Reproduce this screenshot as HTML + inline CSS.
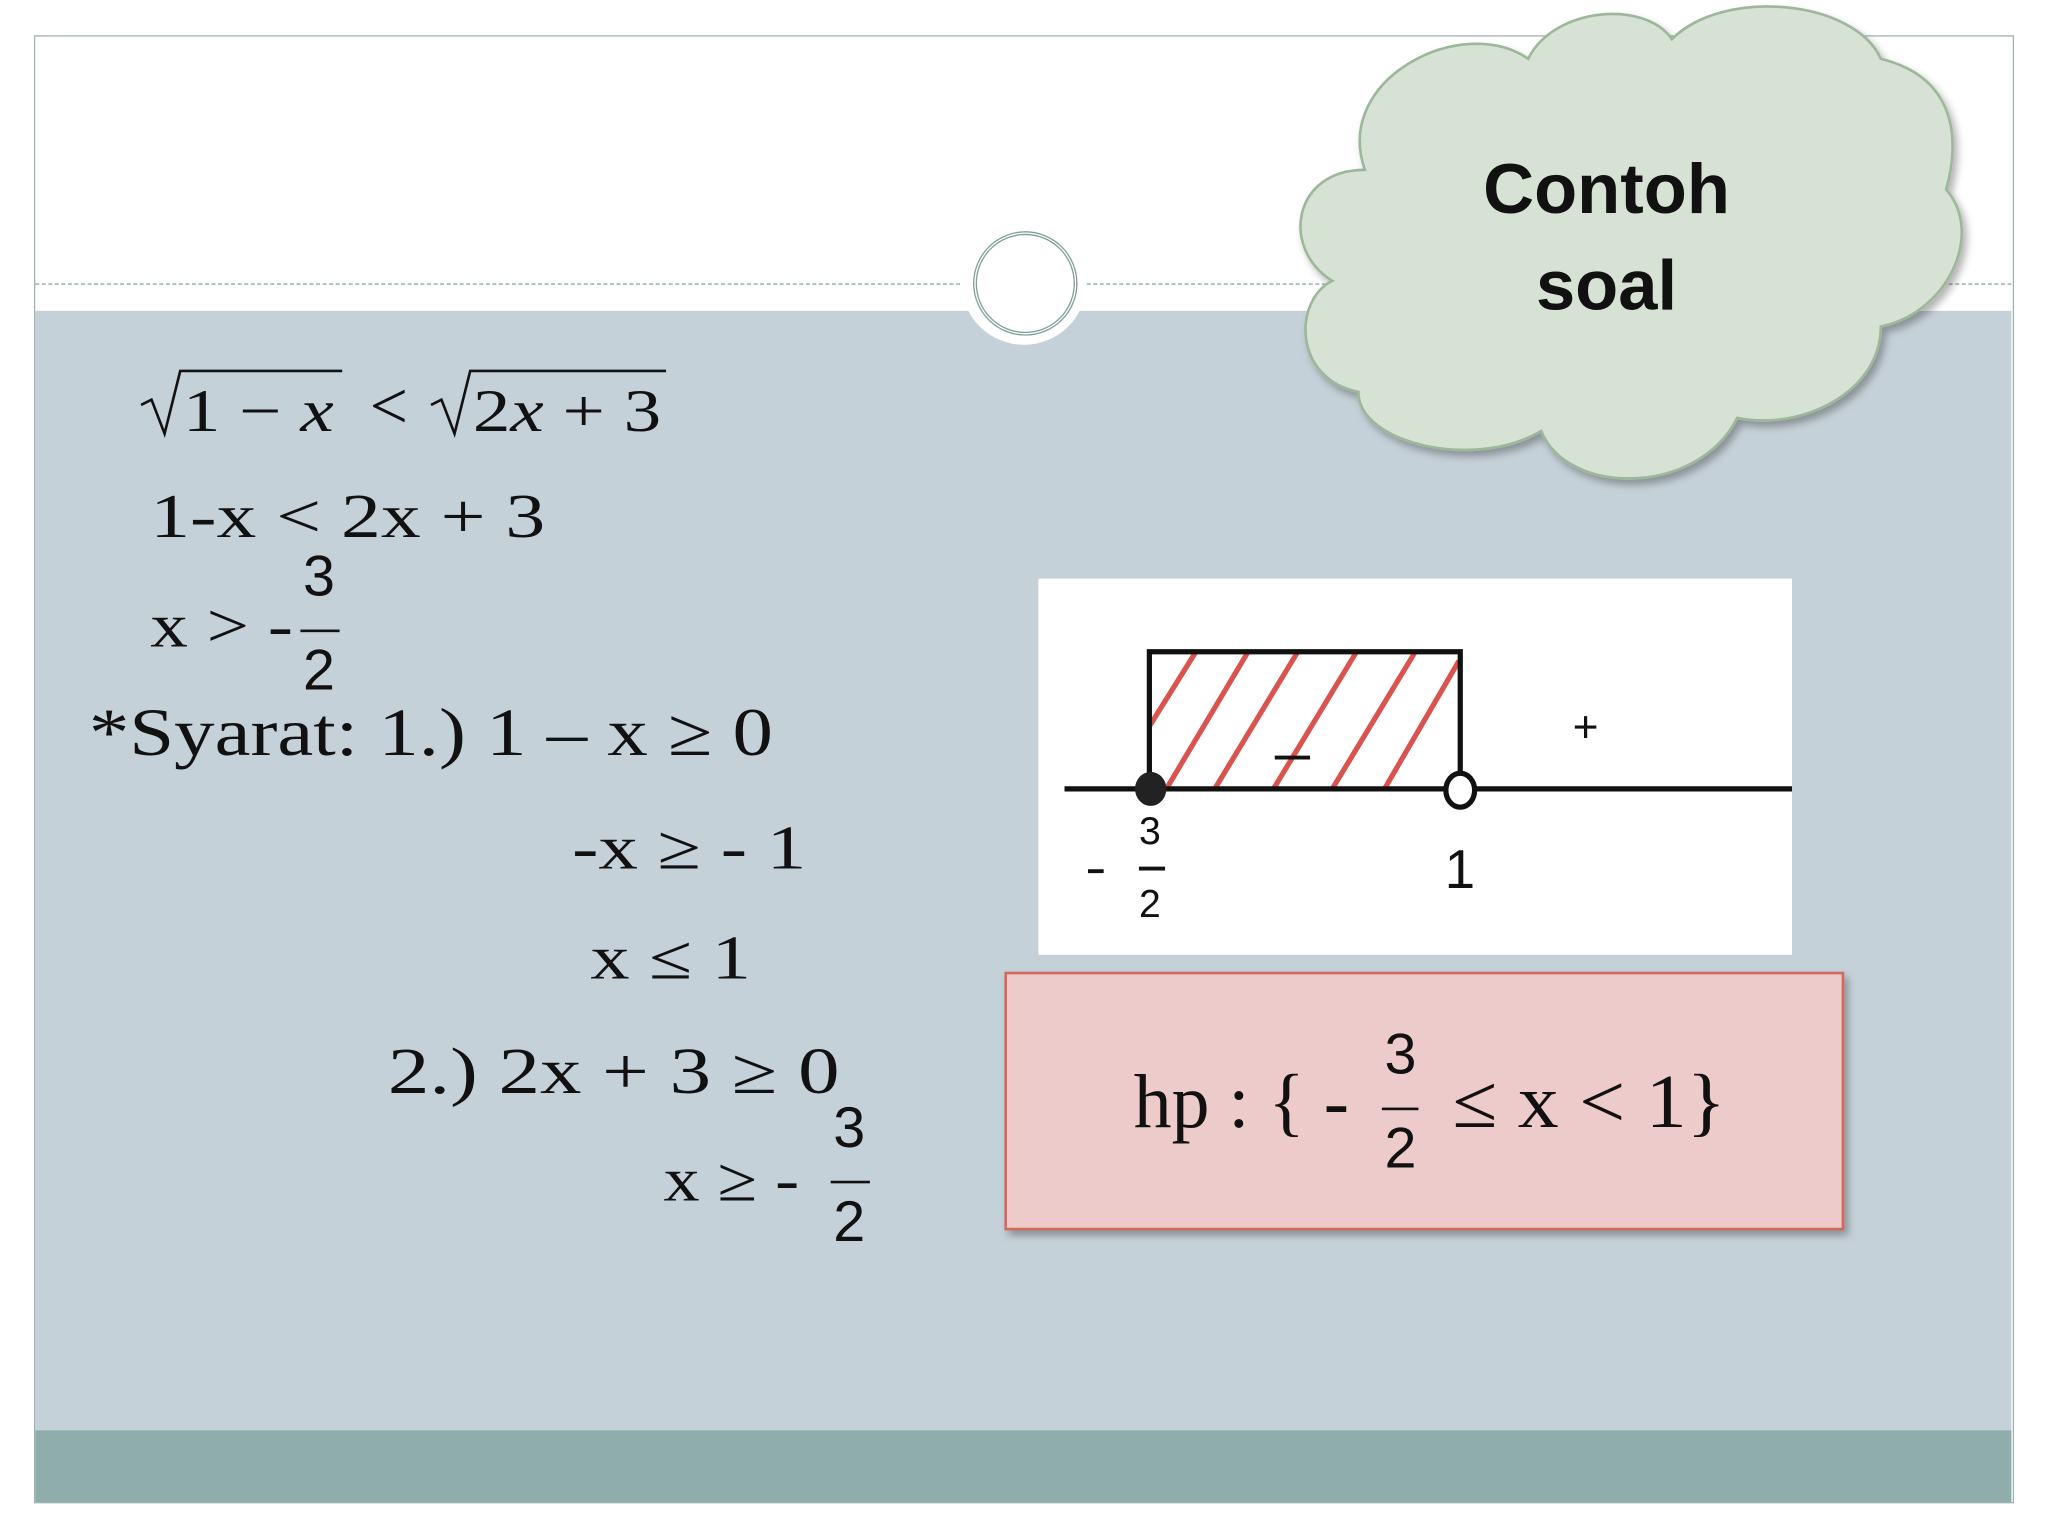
<!DOCTYPE html>
<html><head><meta charset="utf-8"><style>
html,body{margin:0;padding:0;width:2048px;height:1536px;overflow:hidden;background:#fff}
#s{position:absolute;left:0;top:0;width:1568px;height:1176px;transform:scale(1.306122);transform-origin:0 0}
.t{position:absolute;font-family:"Liberation Serif",serif;color:#111;white-space:nowrap;line-height:1;transform-origin:0 0}
</style></head><body><div id="s">
<div style="position:absolute;left:26px;top:27px;width:1514px;height:1122px;border:1px solid #9fb3ae;background:#fff"></div>
<div style="position:absolute;left:27px;top:238px;width:1513px;height:857px;background:#c5d1d8"></div>
<div style="position:absolute;left:27px;top:1095px;width:1513px;height:55px;background:#8fadab"></div>
<div style="position:absolute;left:27px;top:217px;width:1513px;border-top:1px dashed #8fa9a6"></div>
<div style="position:absolute;left:736px;top:168px;width:96px;height:96px;border-radius:50%;background:#fff"></div>
<div style="position:absolute;left:745px;top:177px;width:74px;height:74px;border-radius:50%;border:3px double #7f9f9a;background:#fff"></div>
<svg style="position:absolute;left:0;top:0" width="1568" height="1176">
<defs><filter id="sh"><feDropShadow dx="3" dy="4" stdDeviation="3" flood-opacity="0.3"/></filter></defs>
<g filter="url(#sh)" fill="#d6e2d3" stroke="#9db79a" stroke-width="2">
<path d="M1045,130 C1020,60 1120,10 1170,45 C1190,5 1260,0 1280,30 C1320,-10 1420,0 1440,45 C1500,60 1500,110 1490,145 C1520,180 1490,240 1440,250 C1440,300 1380,330 1330,320 C1300,380 1200,380 1180,330 C1130,360 1040,340 1040,300 C990,290 990,230 1020,215 C980,190 990,130 1045,130 Z"/>
</g>
<rect x="795" y="443" width="577" height="288" fill="#fff"/>
<g stroke="#d9534f" stroke-width="4">
<line x1="880" y1="556" x2="915" y2="500"/><line x1="893" y1="604" x2="955" y2="500"/><line x1="930" y1="604" x2="993" y2="500"/><line x1="975" y1="604" x2="1038" y2="500"/><line x1="1020" y1="604" x2="1083" y2="500"/><line x1="1060" y1="604" x2="1117" y2="506"/>
</g>
<path d="M880,604 V499 H1118 V604" fill="none" stroke="#111" stroke-width="4"/>
<line x1="815" y1="604" x2="1372" y2="604" stroke="#111" stroke-width="4"/>
<ellipse cx="881" cy="604" rx="12" ry="13" fill="#222"/>
<ellipse cx="1118" cy="605" rx="11" ry="13" fill="#fff" stroke="#111" stroke-width="4"/>
<line x1="976" y1="580" x2="1003" y2="580" stroke="#111" stroke-width="3"/>
<line x1="833" y1="667" x2="845" y2="667" stroke="#111" stroke-width="3"/>
<line x1="872" y1="665" x2="892" y2="665" stroke="#111" stroke-width="3"/>
<rect x="770" y="745" width="641" height="196" fill="#eecbcb" stroke="#d06a5e" stroke-width="2" filter="url(#sh)"/>
<path d="M108,310 l8,-4 l10,26 l12,-48 h124" fill="none" stroke="#111" stroke-width="2"/>
<path d="M330,310 l8,-4 l10,26 l12,-48 h150" fill="none" stroke="#111" stroke-width="2"/>
</svg>
<div class="t" style="left:1130px;top:108px;font-family:'Liberation Sans',sans-serif;font-weight:bold;font-size:54px;width:200px;text-align:center;line-height:74px">Contoh<br>soal</div>
<div class="t" style="left:140px;top:292px;font-size:46px;transform:scaleX(1.25)">1 − <i>x</i></div>
<div class="t" style="left:283px;top:286px;font-size:52px">&lt;</div>
<div class="t" style="left:362px;top:292px;font-size:46px;transform:scaleX(1.25)">2<i>x</i> + 3</div>
<div class="t" style="left:115px;top:372px;font-size:48px;transform:scaleX(1.27)">1-x &lt; 2x + 3</div>
<div class="t" style="left:115px;top:456px;font-size:48px;transform:scaleX(1.2)">x &gt; -</div>
<div class="t" style="left:232px;top:420px;font-size:44px;font-family:'Liberation Sans',sans-serif">3</div>
<div style="position:absolute;left:230px;top:482px;width:30px;border-top:2px solid #111"></div>
<div class="t" style="left:232px;top:492px;font-size:44px;font-family:'Liberation Sans',sans-serif">2</div>
<div class="t" style="left:68px;top:536px;font-size:52px;transform:scaleX(1.19)">*Syarat: 1.) 1 – x ≥ 0</div>
<div class="t" style="left:438px;top:626px;font-size:48px;transform:scaleX(1.26)">-x ≥ - 1</div>
<div class="t" style="left:452px;top:710px;font-size:48px;transform:scaleX(1.25)">x ≤ 1</div>
<div class="t" style="left:297px;top:795px;font-size:50px;transform:scaleX(1.27)">2.) 2x + 3 ≥ 0</div>
<div class="t" style="left:508px;top:880px;font-size:48px;transform:scaleX(1.15)">x ≥ -</div>
<div class="t" style="left:638px;top:842px;font-size:44px;font-family:'Liberation Sans',sans-serif">3</div>
<div style="position:absolute;left:636px;top:904px;width:30px;border-top:2px solid #111"></div>
<div class="t" style="left:638px;top:914px;font-size:44px;font-family:'Liberation Sans',sans-serif">2</div>
<div class="t" style="left:1204px;top:540px;font-size:34px;font-family:'Liberation Sans',sans-serif">+</div>
<div class="t" style="left:872px;top:622px;font-size:30px;font-family:'Liberation Sans',sans-serif">3</div>
<div class="t" style="left:872px;top:678px;font-size:30px;font-family:'Liberation Sans',sans-serif">2</div>
<div class="t" style="left:1106px;top:645px;font-size:42px;font-family:'Liberation Sans',sans-serif">1</div>
<div class="t" style="left:868px;top:815px;font-size:58px">hp : { -</div>
<div class="t" style="left:1060px;top:786px;font-size:44px;font-family:'Liberation Sans',sans-serif">3</div>
<div style="position:absolute;left:1058px;top:848px;width:28px;border-top:2px solid #111"></div>
<div class="t" style="left:1060px;top:858px;font-size:44px;font-family:'Liberation Sans',sans-serif">2</div>
<div class="t" style="left:1112px;top:815px;font-size:58px;transform:scaleX(1.08)">≤ x &lt; 1}</div>
</div></body></html>
